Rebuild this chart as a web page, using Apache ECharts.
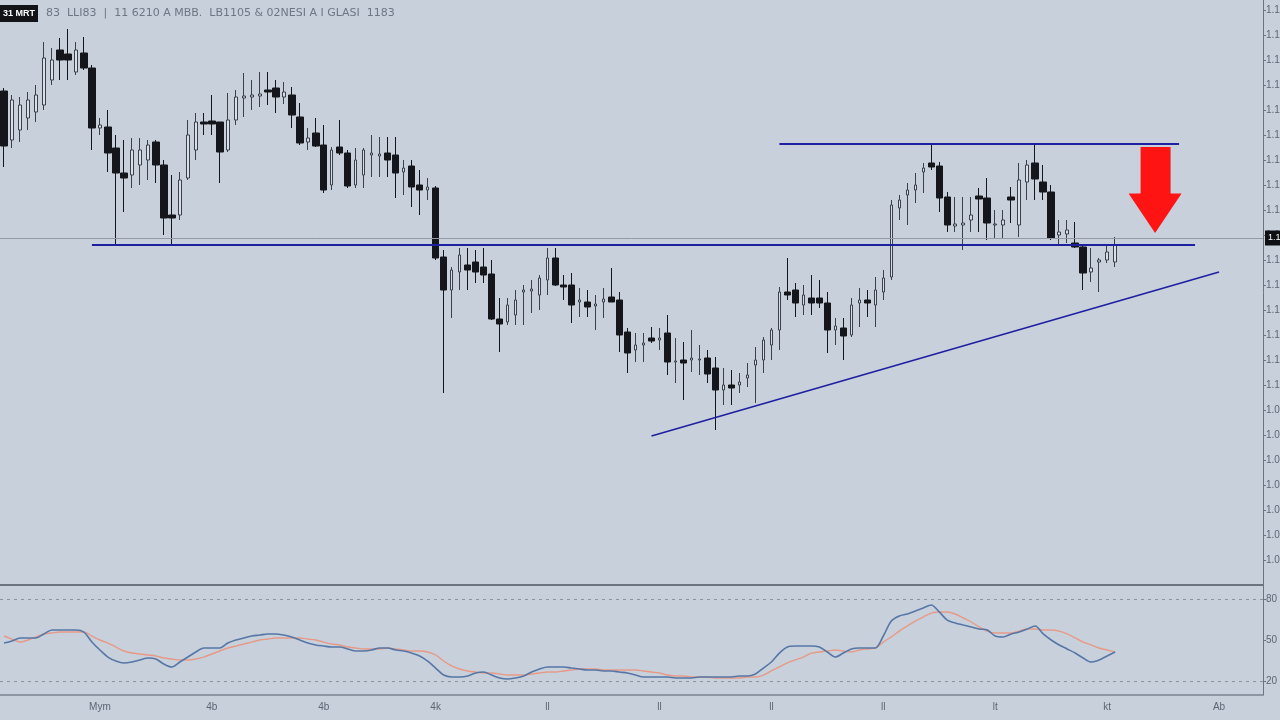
<!DOCTYPE html>
<html>
<head>
<meta charset="utf-8">
<title>chart</title>
<script src="https://cdn.jsdelivr.net/npm/echarts@6/dist/echarts.min.js"></script>
<style>
  html, body { margin: 0; padding: 0; background: #c8d0dc; }
  #main { width: 1280px; height: 720px; }
</style>
</head>
<body>
<div id="main"></div>
<script>
// price candles, one per bar
const opens = [
  1.1294, 1.1245, 1.1255, 1.1267, 1.1273, 1.1280, 1.1305, 1.1335, 1.1331, 1.1313,
  1.1332, 1.1317, 1.1257, 1.1258, 1.1237, 1.1212, 1.1210, 1.1220, 1.1225, 1.1243,
  1.1220, 1.1170, 1.1170, 1.1207, 1.1235, 1.1263, 1.1264, 1.1263, 1.1235, 1.1265,
  1.1287, 1.1288, 1.1289, 1.1295, 1.1297, 1.1288, 1.1290, 1.1268, 1.1243, 1.1252,
  1.1240, 1.1200, 1.1238, 1.1232, 1.1200, 1.1210, 1.1230, 1.1229, 1.1232, 1.1230,
  1.1213, 1.1219, 1.1200, 1.1195, 1.1197, 1.1128, 1.1095, 1.1113, 1.1120, 1.1123,
  1.1118, 1.1111, 1.1066, 1.1063, 1.1070, 1.1093, 1.1094, 1.1090, 1.1105, 1.1127,
  1.1100, 1.1100, 1.1083, 1.1083, 1.1079, 1.1083, 1.1088, 1.1085, 1.1053, 1.1035,
  1.1040, 1.1047, 1.1045, 1.1052, 1.1023, 1.1025, 1.1025, 1.1025, 1.1027, 1.1017,
  1.0995, 1.1000, 1.1000, 1.1007, 1.1020, 1.1025, 1.1040, 1.1055, 1.1093, 1.1095,
  1.1080, 1.1087, 1.1087, 1.1082, 1.1055, 1.1057, 1.1050, 1.1082, 1.1085, 1.1080,
  1.1093, 1.1108, 1.1177, 1.1190, 1.1195, 1.1213, 1.1222, 1.1219, 1.1188, 1.1159,
  1.1160, 1.1165, 1.1189, 1.1187, 1.1160, 1.1160, 1.1188, 1.1160, 1.1203, 1.1222,
  1.1203, 1.1193, 1.1150, 1.1151, 1.1142, 1.1138, 1.1113, 1.1123, 1.1125, 1.1123
]
const closes = [
  1.1239, 1.1285, 1.1280, 1.1285, 1.1290, 1.1327, 1.1325, 1.1325, 1.1325, 1.1335,
  1.1317, 1.1257, 1.1260, 1.1232, 1.1212, 1.1207, 1.1235, 1.1235, 1.1240, 1.1220,
  1.1167, 1.1167, 1.1205, 1.1250, 1.1263, 1.1261, 1.1261, 1.1233, 1.1265, 1.1288,
  1.1289, 1.1290, 1.1291, 1.1293, 1.1288, 1.1293, 1.1270, 1.1242, 1.1247, 1.1239,
  1.1195, 1.1235, 1.1232, 1.1199, 1.1225, 1.1235, 1.1232, 1.1231, 1.1225, 1.1212,
  1.1217, 1.1198, 1.1195, 1.1198, 1.1127, 1.1095, 1.1115, 1.1130, 1.1115, 1.1113,
  1.1110, 1.1066, 1.1061, 1.1080, 1.1085, 1.1095, 1.1096, 1.1107, 1.1127, 1.1100,
  1.1098, 1.1080, 1.1085, 1.1078, 1.1081, 1.1086, 1.1083, 1.1050, 1.1032, 1.1040,
  1.1042, 1.1044, 1.1047, 1.1023, 1.1024, 1.1022, 1.1027, 1.1026, 1.1011, 1.0995,
  1.1000, 1.0997, 1.1003, 1.1010, 1.1025, 1.1045, 1.1055, 1.1093, 1.1090, 1.1082,
  1.1090, 1.1082, 1.1082, 1.1055, 1.1059, 1.1049, 1.1080, 1.1085, 1.1082, 1.1095,
  1.1107, 1.1180, 1.1185, 1.1195, 1.1200, 1.1217, 1.1218, 1.1187, 1.1160, 1.1161,
  1.1162, 1.1170, 1.1186, 1.1162, 1.1161, 1.1165, 1.1185, 1.1205, 1.1220, 1.1206,
  1.1193, 1.1147, 1.1153, 1.1155, 1.1138, 1.1112, 1.1117, 1.1125, 1.1133, 1.1140
]
const lows = [
  1.1218, 1.1237, 1.1243, 1.1255, 1.1263, 1.1275, 1.1300, 1.1305, 1.1305, 1.1310,
  1.1315, 1.1235, 1.1250, 1.1213, 1.1140, 1.1173, 1.1197, 1.1200, 1.1205, 1.1202,
  1.1150, 1.1140, 1.1165, 1.1205, 1.1225, 1.1250, 1.1250, 1.1202, 1.1233, 1.1260,
  1.1268, 1.1275, 1.1278, 1.1280, 1.1272, 1.1281, 1.1257, 1.1240, 1.1235, 1.1238,
  1.1192, 1.1195, 1.1230, 1.1197, 1.1197, 1.1197, 1.1208, 1.1208, 1.1208, 1.1187,
  1.1190, 1.1178, 1.1170, 1.1185, 1.1125, 1.0992, 1.1067, 1.1095, 1.1095, 1.1102,
  1.1102, 1.1065, 1.1033, 1.1060, 1.1060, 1.1060, 1.1072, 1.1075, 1.1090, 1.1099,
  1.1085, 1.1062, 1.1068, 1.1068, 1.1055, 1.1067, 1.1083, 1.1033, 1.1012, 1.1023,
  1.1023, 1.1042, 1.1035, 1.1010, 1.1002, 1.0985, 1.1013, 1.1010, 1.1002, 1.0955,
  1.0980, 1.0980, 1.0992, 1.0998, 1.0982, 1.1012, 1.1025, 1.1035, 1.1085, 1.1068,
  1.1070, 1.1070, 1.1077, 1.1032, 1.1040, 1.1025, 1.1048, 1.1058, 1.1068, 1.1058,
  1.1085, 1.1105, 1.1165, 1.1160, 1.1182, 1.1192, 1.1215, 1.1173, 1.1153, 1.1153,
  1.1135, 1.1153, 1.1153, 1.1145, 1.1147, 1.1147, 1.1162, 1.1148, 1.1185, 1.1185,
  1.1185, 1.1145, 1.1140, 1.1142, 1.1137, 1.1095, 1.1103, 1.1093, 1.1122, 1.1118
]
const highs = [
  1.1297, 1.1290, 1.1288, 1.1293, 1.1300, 1.1343, 1.1337, 1.1347, 1.1356, 1.1343,
  1.1348, 1.1320, 1.1267, 1.1275, 1.1250, 1.1245, 1.1247, 1.1247, 1.1245, 1.1245,
  1.1225, 1.1210, 1.1213, 1.1265, 1.1272, 1.1272, 1.1290, 1.1263, 1.1292, 1.1295,
  1.1312, 1.1305, 1.1313, 1.1313, 1.1305, 1.1303, 1.1298, 1.1282, 1.1257, 1.1267,
  1.1260, 1.1238, 1.1265, 1.1235, 1.1237, 1.1237, 1.1250, 1.1248, 1.1248, 1.1248,
  1.1225, 1.1225, 1.1215, 1.1207, 1.1199, 1.1135, 1.1118, 1.1137, 1.1137, 1.1135,
  1.1137, 1.1125, 1.1087, 1.1087, 1.1095, 1.1100, 1.1105, 1.1110, 1.1137, 1.1137,
  1.1110, 1.1112, 1.1097, 1.1095, 1.1090, 1.1097, 1.1117, 1.1093, 1.1057, 1.1052,
  1.1052, 1.1058, 1.1057, 1.1070, 1.1047, 1.1043, 1.1055, 1.1040, 1.1035, 1.1028,
  1.1017, 1.1015, 1.1012, 1.1022, 1.1038, 1.1048, 1.1057, 1.1098, 1.1127, 1.1102,
  1.1100, 1.1110, 1.1105, 1.1093, 1.1067, 1.1067, 1.1087, 1.1097, 1.1095, 1.1108,
  1.1115, 1.1185, 1.1190, 1.1202, 1.1212, 1.1222, 1.1241, 1.1223, 1.1193, 1.1188,
  1.1188, 1.1188, 1.1197, 1.1207, 1.1175, 1.1175, 1.1198, 1.1222, 1.1225, 1.1240,
  1.1220, 1.1200, 1.1165, 1.1165, 1.1163, 1.1140, 1.1137, 1.1127, 1.1140, 1.1148
]

// oscillator in the lower pane
const oscFast = [
  47.8, 49.3, 51.5, 51.5, 51.5, 54.4, 57.3, 57.3, 57.3, 57.3,
  55.8, 48.5, 42.7, 37.6, 34.7, 33.3, 34, 35.5, 36.9, 36.2,
  32.5, 30.4, 34, 37.6, 41.3, 44.2, 44.2, 44.2, 47.8, 50,
  51.5, 52.9, 53.6, 54.4, 54.4, 53.6, 52.2, 50, 47.8, 46.4,
  45.6, 44.9, 44.9, 43.5, 42, 42, 42.7, 44.2, 44.2, 42.7,
  42, 40.5, 38.4, 34.7, 29.6, 24.5, 23.1, 23.1, 23.8, 26,
  26.7, 24.5, 22.4, 21.6, 22.4, 23.8, 26.7, 28.9, 30.4, 30.4,
  30.4, 29.6, 28.9, 28.2, 28.2, 27.5, 27.5, 26.7, 26, 24.5,
  23.1, 23.1, 23.1, 23.1, 22.4, 22.4, 22.4, 23.1, 23.1, 23.1,
  23.1, 23.1, 23.8, 23.8, 25.3, 29.6, 34, 40.5, 44.9, 45.6,
  45.6, 45.6, 44.9, 41.3, 37.6, 40.5, 43.5, 44.2, 44.2, 44.2,
  52.9, 63.8, 67.5, 68.9, 71.1, 73.3, 75.5, 70.4, 64.5, 62.4,
  60.9, 59.5, 58, 57.3, 52.9, 52.2, 54.4, 55.8, 58, 60.2,
  54.4, 50, 46.4, 43.5, 40.5, 36.9, 34, 35.5, 38.4, 41.3
]
const oscSlow = [
  52.9, 50.7, 48.5, 50, 52.2, 54.4, 55.1, 55.8, 55.8, 55.8,
  55.8, 52.9, 50, 47.8, 44.9, 42, 40.5, 39.8, 39.1, 38.4,
  36.9, 36.2, 35.5, 35.5, 36.2, 37.6, 39.8, 42, 44.2, 45.6,
  47.1, 48.5, 50, 50.7, 51.5, 51.5, 51.5, 51.5, 50.7, 50,
  48.5, 47.1, 46.4, 44.9, 44.2, 43.5, 43.5, 43.5, 44.2, 43.5,
  42.7, 42, 42, 41.3, 39.1, 34.7, 31.1, 28.9, 27.5, 26.7,
  26, 26, 25.3, 24.5, 24.5, 24.5, 25.3, 26, 26.7, 26.7,
  27.5, 28.2, 28.9, 28.9, 28.9, 28.2, 28.2, 28.2, 28.2, 28.2,
  27.5, 26.7, 26, 24.5, 23.8, 23.8, 23.1, 23.1, 23.1, 22.4,
  22.4, 22.4, 22.4, 23.1, 23.1, 24.5, 27.5, 30.4, 33.3, 35.5,
  37.6, 40.5, 41.3, 42, 42.7, 42, 41.3, 42.7, 43.5, 44.2,
  48.5, 52.2, 56.5, 60.2, 63.8, 66.7, 69.6, 70.4, 70.4, 68.9,
  66, 63.1, 59.5, 56.5, 55.1, 55.1, 55.1, 56.5, 58, 58,
  57.3, 57.3, 56.5, 54.4, 51.5, 48.5, 46.4, 44.2, 42.7, 41.3
]
const oscLevels = [80, 20]

// time axis: total slots (empty space after the last bar) and labelled slots
const slotCount = 158
const tickIndex = [12, 26, 40, 54, 68, 82, 96, 110, 124, 138, 152]
const tickLabels = ['Mym', '4b', '4b', '4k', 'll', 'll', 'll', 'll', 'lt', 'kt', 'Ab']

// drawn lines: [barIndex, price] end points
const supportLine = [[10.5, 1.1140], [148.6, 1.1140]]
const resistLine = [[96.6, 1.1241], [146.9, 1.1241]]
const trendLine = [[80.5, 1.0949], [152, 1.1113]]
const lastPrice = 1.1147
const arrowAt = [144, 1.1195]

const categories = []
for (let i = 0; i < slotCount; i++) categories.push(String(i))

// split rising / falling bars so they can have different widths
const upBars = opens.map((o, i) => closes[i] >= o ? [o, closes[i], lows[i], highs[i]] : '-')
const downBars = opens.map((o, i) => closes[i] < o ? [o, closes[i], lows[i], highs[i]] : '-')

const chart = echarts.init(document.getElementById('main'))
const blue = '#1d20a0'
const axisGrey = '#6c7480'
const labelGrey = '#5e6673'

const option = {
  backgroundColor: '#c8d0dc',
  animation: false,
  title: [
    {
      text: '31 MRT',
      left: 0,
      top: 5,
      padding: [4, 3],
      backgroundColor: '#111317',
      textStyle: {color: '#ffffff', fontSize: 9, fontWeight: 'bold', fontFamily: 'Liberation Sans'}
    },
    {
      text: '83  LLI83  |  11 6210 A MBB.  LB1105 & 02NESI A I GLASI  1183',
      left: 42,
      top: 6,
      padding: [2, 4],
      textStyle: {color: '#6e7683', fontSize: 11, fontWeight: 'normal', fontFamily: 'DejaVu Sans'}
    }
  ],
  // outerBoundsMode none: keep the plot edges fixed and let right labels run off the page
  grid: [
    {left: 0, right: 17, top: 0, bottom: 135, outerBoundsMode: 'none', containLabel: false},
    {left: 0, right: 17, top: 585, bottom: 25, outerBoundsMode: 'none', containLabel: false}
  ],
  xAxis: [
    {
      type: 'category',
      gridIndex: 0,
      data: categories,
      axisLine: {show: true, lineStyle: {color: axisGrey, width: 2}},
      axisTick: {show: false},
      axisLabel: {show: false},
      splitLine: {show: false}
    },
    {
      type: 'category',
      gridIndex: 1,
      data: categories,
      axisLine: {show: true, lineStyle: {color: '#7b8390', width: 1.5}},
      axisTick: {show: false},
      axisLabel: {
        color: labelGrey,
        fontSize: 10,
        margin: 7,
        interval: (idx) => tickIndex.includes(idx),
        formatter: (v, idx) => tickLabels[tickIndex.indexOf(idx)] || ''
      },
      splitLine: {show: false}
    }
  ],
  yAxis: [
    {
      type: 'value',
      gridIndex: 0,
      position: 'right',
      min: 1.08,
      max: 1.1385,
      interval: 0.0025,
      splitLine: {show: false},
      axisLine: {show: true, lineStyle: {color: axisGrey}},
      axisTick: {show: true, length: 3, lineStyle: {color: axisGrey}},
      axisLabel: {
        color: labelGrey,
        fontSize: 10,
        margin: 3,
        showMinLabel: false,
        showMaxLabel: false,
        formatter: (v) => v.toFixed(4)
      }
    },
    {
      type: 'value',
      gridIndex: 1,
      position: 'right',
      min: 10,
      max: 90,
      splitLine: {show: false},
      axisLine: {show: true, lineStyle: {color: axisGrey}},
      axisTick: {show: true, length: 3, customValues: [20, 50, 80], lineStyle: {color: axisGrey}},
      axisLabel: {color: labelGrey, fontSize: 10, margin: 3, customValues: [20, 50, 80]}
    }
  ],
  series: [
    {
      // carrier for the last-price line only, the line itself is not drawn
      name: 'last',
      type: 'line',
      xAxisIndex: 0,
      yAxisIndex: 0,
      data: closes,
      symbol: 'none',
      silent: true,
      lineStyle: {opacity: 0},
      z: 1,
      markLine: {
        symbol: 'none',
        silent: true,
        precision: 4, // default of 2 rounds the level itself
        data: [
          {
            yAxis: lastPrice,
            lineStyle: {color: '#939aa5', width: 1, type: 'solid'},
            label: {
              show: true,
              position: 'end',
              distance: 2,
              formatter: lastPrice.toFixed(4),
              backgroundColor: '#0e1014',
              color: '#ffffff',
              fontSize: 9,
              padding: [3, 3]
            }
          }
        ]
      }
    },
    {
      name: 'up',
      type: 'candlestick',
      xAxisIndex: 0,
      yAxisIndex: 0,
      data: upBars,
      barWidth: 3,
      itemStyle: {
        color: '#d9dfe8',
        color0: '#d9dfe8',
        borderColor: '#3b4049',
        borderColor0: '#3b4049',
        borderWidth: 1
      }
    },
    {
      name: 'down',
      type: 'candlestick',
      xAxisIndex: 0,
      yAxisIndex: 0,
      data: downBars,
      barWidth: 7,
      z: 3,
      itemStyle: {
        color: '#14161b',
        color0: '#14161b',
        borderColor: '#14161b',
        borderColor0: '#14161b',
        borderWidth: 1
      },
      markLine: {
        symbol: 'none',
        silent: true,
        precision: 4,
        label: {show: false},
        data: [
          [
            {coord: supportLine[0], lineStyle: {color: blue, width: 2, type: 'solid'}},
            {coord: supportLine[1]}
          ],
          [
            {coord: resistLine[0], lineStyle: {color: blue, width: 2, type: 'solid'}},
            {coord: resistLine[1]}
          ],
          [
            {coord: trendLine[0], lineStyle: {color: blue, width: 1.6, type: 'solid'}},
            {coord: trendLine[1]}
          ]
        ]
      },
      markPoint: {
        silent: true,
        label: {show: false},
        data: [
          {
            coord: arrowAt,
            symbol: 'path://M12,0 L42,0 L42,46 L53,46 L26.5,85 L0,46 L12,46 Z',
            symbolSize: [53, 86],
            symbolKeepAspect: false,
            itemStyle: {color: '#ff1414'}
          }
        ]
      }
    },
    {
      name: 'slow',
      type: 'line',
      xAxisIndex: 1,
      yAxisIndex: 1,
      data: oscSlow,
      symbol: 'none',
      smooth: 0.3,
      lineStyle: {color: '#e69a86', width: 1.4},
      markLine: {
        symbol: 'none',
        silent: true,
        label: {show: false},
        lineStyle: {color: '#8b939f', width: 1, type: [3, 4]},
        data: oscLevels.map(v => ({yAxis: v}))
      }
    },
    {
      name: 'fast',
      type: 'line',
      xAxisIndex: 1,
      yAxisIndex: 1,
      data: oscFast,
      symbol: 'none',
      smooth: 0.3,
      lineStyle: {color: '#5677a6', width: 1.6}
    }
  ]
}

chart.setOption(option)
</script>
</body>
</html>
